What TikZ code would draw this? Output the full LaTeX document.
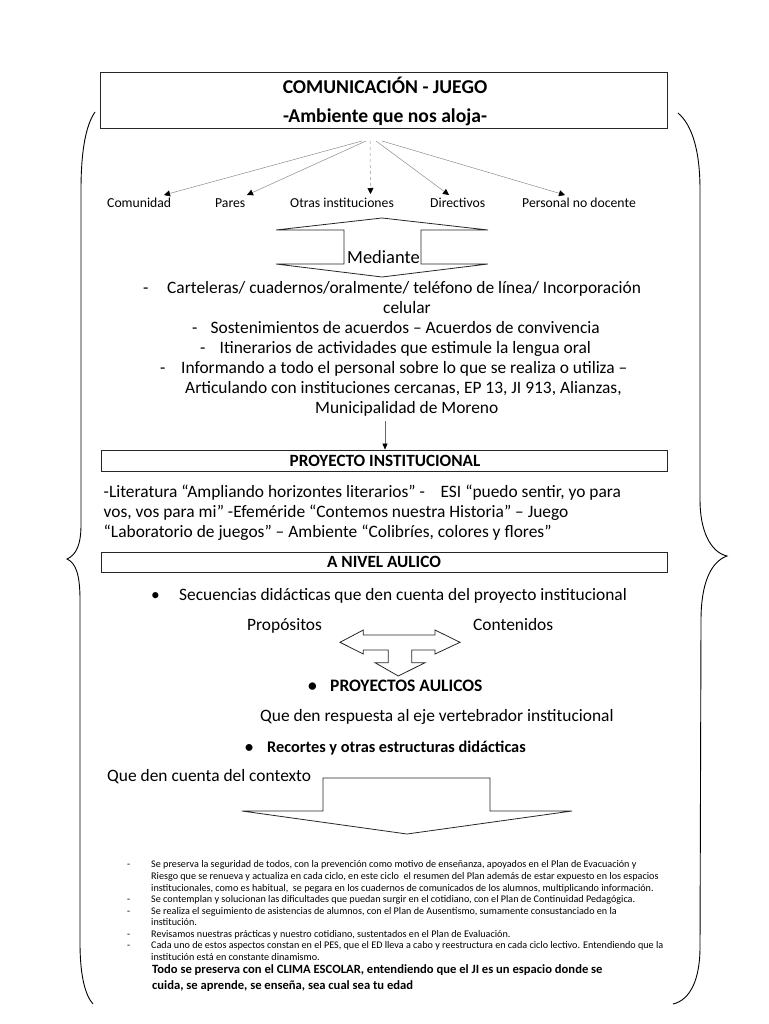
\documentclass[tikz,border=0pt]{standalone}
\usepackage{fontspec}
\setmainfont{Carlito}
\usetikzlibrary{arrows.meta}
\begin{document}
\begin{tikzpicture}[x=1pt,y=-1pt,
  boxst/.style={draw=black!85, line width=0.8pt, inner sep=0pt},
  ttl/.style={inner sep=0pt, font=\fontsize{19.6}{21}\selectfont\bfseries},
  hdr/.style={inner sep=0pt, font=\fontsize{17.2}{19}\selectfont\bfseries},
  lbl/.style={inner sep=0pt, anchor=base west, font=\fontsize{13.7}{15}\selectfont},
  mtx/.style={inner sep=0pt, anchor=base west, font=\fontsize{17.4}{20}\selectfont},
  btx/.style={inner sep=0pt, anchor=base west, font=\fontsize{17.5}{20}\selectfont\bfseries},
  sml/.style={inner sep=0pt, anchor=base west, font=\fontsize{10.15}{11}\selectfont},
  fin/.style={inner sep=0pt, anchor=base west, font=\fontsize{12.6}{15}\selectfont\bfseries},
  ray/.style={draw=black!45, line width=0.5pt, -{Triangle[length=6pt,width=6pt,color=black]}},
  shp/.style={draw=black!85, line width=0.8pt, line join=miter},
  brace/.style={draw=black, line width=0.9pt}
]
\useasboundingbox (0,0) rectangle (768,1024);

% braces
\draw[brace] (95,112) .. controls (86,125) and (81,150) .. (81,190) -- (81,525)
  .. controls (81,545) and (76,555) .. (67,559) .. controls (76,563) and (80,575) .. (80,600)
  -- (80,943) .. controls (80,975) and (85,995) .. (93,1004);
\draw[brace] (678,113) .. controls (692,125) and (700,150) .. (700,190) -- (700,500)
  .. controls (700,530) and (710,552) .. (727,556) .. controls (710,562) and (701,585) .. (701,620)
  -- (700,947) .. controls (700,980) and (690,1000) .. (673,1004);

% title box
\node[boxst, minimum width=567pt, minimum height=56pt] (tbox) at (384,100) {};
\node[ttl] (t1) at (385,85) {COMUNICACIÓN - JUEGO};
\node[ttl] (t2) at (385,117) {-Ambiente que nos aloja-};

% receivers
\node[lbl] (comu) at (107,208) {Comunidad};
\node[lbl] (pares) at (215,208) {Pares};
\node[lbl] (otras) at (290,208) {Otras instituciones};
\node[lbl] (dir) at (430,208) {Directivos};
\node[lbl] (pers) at (522,208) {Personal no docente};
\coordinate (o1) at (362,141);
\coordinate (o2) at (366,141);
\coordinate (o3) at (370,141);
\coordinate (o4) at (376,141);
\coordinate (o5) at (382,141);
\coordinate (e1) at (164,195);
\coordinate (e2) at (247,195);
\coordinate (e3) at (370.5,194);
\coordinate (e4) at (449,195);
\coordinate (e5) at (565,195);
\draw[ray] (o1) -- (e1);
\draw[ray] (o2) -- (e2);
\draw[ray, dashed] (o3) -- (e3);
\draw[ray] (o4) -- (e4);
\draw[ray] (o5) -- (e5);

% Mediante up-down shape
\draw[shp] (382,218) -- (276,230) -- (344,230) -- (344,264) -- (276,264) -- (382,277)
  -- (488,264) -- (421,264) -- (421,230) -- (488,230) -- cycle;
\node[inner sep=0pt, anchor=base west, font=\fontsize{18.5}{20}\selectfont] (med) at (347,263) {Mediante};

% list
\node[mtx] (d1) at (143,293.5) {-};
\node[mtx] (l1) at (167,293.5) {Carteleras/ cuadernos/oralmente/ teléfono de línea/ Incorporación};
\node[mtx] (l1b) at (383,313.5) {celular};
\node[mtx] (d2) at (192,333.5) {-};
\node[mtx] (l2) at (210.5,333.5) {Sostenimientos de acuerdos – Acuerdos de convivencia};
\node[mtx] (d3) at (200,353.5) {-};
\node[mtx] (l3) at (219.5,353.5) {Itinerarios de actividades que estimule la lengua oral};
\node[mtx] (d4) at (160,373.5) {-};
\node[mtx] (l4) at (181,373.5) {Informando a todo el personal sobre lo que se realiza o utiliza –};
\node[mtx] (l4b) at (185,393.5) {Articulando con instituciones cercanas, EP 13, JI 913, Alianzas,};
\node[mtx] (l4c) at (315,413.5) {Municipalidad de Moreno};

% proyecto institucional
\node[boxst, minimum width=566pt, minimum height=21pt] (pibox) at (384.5,460.5) {};
\node[hdr] (pit) at (385,460.5) {PROYECTO INSTITUCIONAL};
\coordinate (a1) at (385,421);
\draw[draw=black!60, line width=0.6pt, -{Triangle[length=6pt,width=5pt,color=black]}] (a1) -- (pibox.north -| a1);

\node[mtx] (p1) at (103.5,497.5) {-Literatura “Ampliando horizontes literarios” -\hspace{0.9em}ESI “puedo sentir, yo para};
\node[mtx] (p2) at (103.5,517.5) {vos, vos para mi” -Efeméride “Contemos nuestra Historia” – Juego};
\node[mtx] (p3) at (103.5,537.5) {“Laboratorio de juegos” – Ambiente “Colibríes, colores y flores”};

% a nivel aulico
\node[boxst, minimum width=566pt, minimum height=20pt] (anbox) at (384.5,562) {};
\node[hdr] (ant) at (384,562) {A NIVEL AULICO};

\node[mtx] (b1) at (151,600.5) {•};
\node[mtx] (s1) at (179,600.5) {Secuencias didácticas que den cuenta del proyecto institucional};
\node[mtx] (prop) at (247,630.5) {Propósitos};
\node[mtx] (cont) at (473,630.5) {Contenidos};

% left-right-down arrow
\draw[shp] (340,642.3) -- (363.3,630) -- (363.3,635) -- (435,635) -- (435,630) -- (460,642.3)
  -- (435,654) -- (435,650) -- (411.7,650) -- (411.7,662.7) -- (425,662.7) -- (398.3,676)
  -- (375,662.7) -- (388.3,662.7) -- (388.3,650) -- (363.3,650) -- (363.3,654) -- cycle;

\node[btx] (b2) at (308,691.5) {•};
\node[btx] (pa) at (330,691.5) {PROYECTOS AULICOS};
\node[mtx] (qr) at (260,721.5) {Que den respuesta al eje vertebrador institucional};
\node[btx, font=\fontsize{16.3}{19}\selectfont\bfseries] (b3) at (245,752.5) {•};
\node[btx, font=\fontsize{16.3}{19}\selectfont\bfseries] (rec) at (267,752.5) {Recortes y otras estructuras didácticas};
\node[mtx] (qc) at (107,781.5) {Que den cuenta del contexto};

% big down arrow
\draw[shp] (323,811) -- (323,778) -- (490,778) -- (490,811) -- (572,811) -- (407,834) -- (242,811) -- cycle;

% bottom small text
\node[sml] (sd1) at (127,867.5) {-};
\node[sml] (s1a) at (151,867.5) {Se preserva la seguridad de todos, con la prevención como motivo de enseñanza, apoyados en el Plan de Evacuación y};
\node[sml] (s1b) at (151,879.5) {Riesgo que se renueva y actualiza en cada ciclo, en este ciclo\ \ el resumen del Plan además de estar expuesto en los espacios};
\node[sml] (s1c) at (151,891) {institucionales, como es habitual,\ \ se pegara en los cuadernos de comunicados de los alumnos, multiplicando información.};
\node[sml] (sd2) at (127,902.5) {-};
\node[sml] (s2) at (151,902.5) {Se contemplan y solucionan las dificultades que puedan surgir en el cotidiano, con el Plan de Continuidad Pedagógica.};
\node[sml] (sd3) at (127,914) {-};
\node[sml] (s3a) at (151,914) {Se realiza el seguimiento de asistencias de alumnos, con el Plan de Ausentismo, sumamente consustanciado en la};
\node[sml] (s3b) at (151,925.5) {institución.};
\node[sml] (sd4) at (127,937) {-};
\node[sml] (s4) at (151,937) {Revisamos nuestras prácticas y nuestro cotidiano, sustentados en el Plan de Evaluación.};
\node[sml] (sd5) at (127,948.5) {-};
\node[sml] (s5a) at (151,948.5) {Cada uno de estos aspectos constan en el PES, que el ED lleva a cabo y reestructura en cada ciclo lectivo. Entendiendo que la};
\node[sml] (s5b) at (151,960) {institución está en constante dinamismo.};
\node[fin] (f1) at (152,973.5) {Todo se preserva con el CLIMA ESCOLAR, entendiendo que el JI es un espacio donde se};
\node[fin] (f2) at (152,989) {cuida, se aprende, se enseña, sea cual sea tu edad};
\end{tikzpicture}
\end{document}
